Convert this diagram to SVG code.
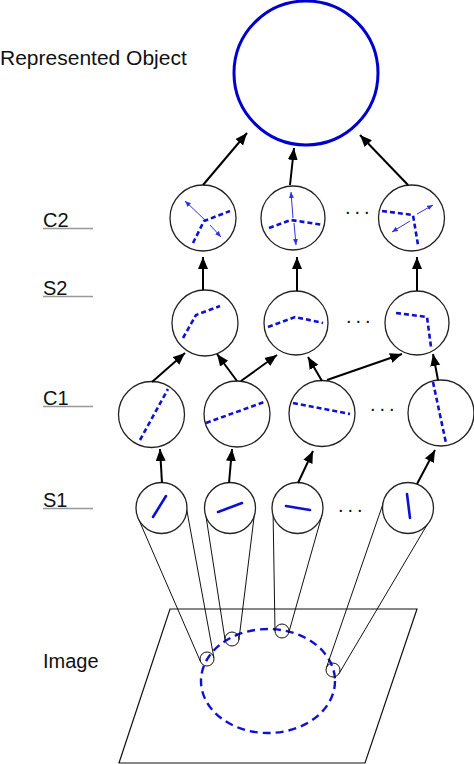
<svg xmlns="http://www.w3.org/2000/svg" width="474" height="764" viewBox="0 0 474 764">
<style>
.lbl{font-family:"Liberation Sans",Arial,sans-serif;font-size:20px;fill:#111}
.big{font-size:21px}
.dots{font-family:"Liberation Sans",Arial,sans-serif;font-size:20px;fill:#111;letter-spacing:4px}
.node{fill:#fff;stroke:#222;stroke-width:1.3}
.dash{fill:none;stroke:#1010d0;stroke-width:2.6;stroke-dasharray:5 3}
.thin{fill:none;stroke:#3030e0;stroke-width:1;marker-end:url(#ta)}
.solid{stroke:#1010d0;stroke-width:2.6;stroke-linecap:round}
.arr{stroke:#000;stroke-width:2;fill:none;marker-end:url(#ah)}
.rule{stroke:#999;stroke-width:1.5}
.cone{stroke:#111;stroke-width:1;fill:none}
</style>
<defs>
<marker id="ah" markerUnits="userSpaceOnUse" markerWidth="14" markerHeight="12" refX="12" refY="5" orient="auto">
<path d="M0,0 L12,5 L0,10 Z" fill="#000"/>
</marker>
<marker id="ta" markerUnits="userSpaceOnUse" markerWidth="8" markerHeight="6" refX="6" refY="2.5" orient="auto">
<path d="M0,0 L6,2.5 L0,5 Z" fill="#3030e0"/>
</marker>
</defs>
<rect width="474" height="764" fill="#fff"/>

<g id="labels">
<text class="lbl big" x="0" y="65">Represented Object</text>
<text class="lbl" x="43" y="227">C2</text>
<line class="rule" x1="43" y1="228.5" x2="93" y2="228.5"/>
<text class="lbl" x="43" y="295">S2</text>
<line class="rule" x1="43" y1="296.5" x2="93" y2="296.5"/>
<text class="lbl" x="43" y="405">C1</text>
<line class="rule" x1="43" y1="406.5" x2="93" y2="406.5"/>
<text class="lbl" x="43" y="507">S1</text>
<line class="rule" x1="43" y1="508.5" x2="93" y2="508.5"/>
<text class="lbl" x="43" y="668">Image</text>
</g>

<g id="image-plane">
<polygon points="170,609 417,609 365,763 119,763" fill="none" stroke="#111" stroke-width="1.2"/>
<ellipse cx="268" cy="681" rx="67" ry="52" fill="none" stroke="#1010d0" stroke-width="2.4" stroke-dasharray="8 5"/>
<circle cx="207" cy="659" r="7" fill="none" stroke="#111" stroke-width="1"/>
<circle cx="232" cy="639" r="7" fill="none" stroke="#111" stroke-width="1"/>
<circle cx="282" cy="631" r="7" fill="none" stroke="#111" stroke-width="1"/>
<circle cx="333" cy="670" r="7" fill="none" stroke="#111" stroke-width="1"/>
</g>

<g id="cones">
<line class="cone" x1="138.1" y1="518" x2="200.6" y2="661.8"/>
<line class="cone" x1="185.6" y1="503.5" x2="213.9" y2="657.7"/>
<line class="cone" x1="205.3" y1="511.8" x2="225.1" y2="640.1"/>
<line class="cone" x1="254.8" y1="511.1" x2="238.9" y2="639.9"/>
<line class="cone" x1="273" y1="508.4" x2="275" y2="631.1"/>
<line class="cone" x1="322.1" y1="514.8" x2="288.7" y2="632.9"/>
<line class="cone" x1="384.4" y1="499.8" x2="326.4" y2="667.7"/>
<line class="cone" x1="429.5" y1="520.7" x2="339" y2="673.6"/>
</g>

<g id="object">
<circle cx="306" cy="73" r="72" fill="none" stroke="#0000cc" stroke-width="3"/>
</g>

<g id="c2-1">
<circle class="node" cx="203" cy="218" r="33"/>
<polyline class="dash" points="193,243 204,221 230,211"/>
<line class="thin" x1="205" y1="220" x2="185" y2="201"/>
<line class="thin" x1="210" y1="225" x2="221" y2="237"/>
</g>
<g id="c2-2">
<circle class="node" cx="293" cy="218" r="32"/>
<polyline class="dash" points="269,228 291,220 323,225"/>
<line class="thin" x1="293" y1="218" x2="291" y2="192"/>
<line class="thin" x1="294" y1="223" x2="296" y2="245"/>
</g>
<g id="c2-3">
<circle class="node" cx="411.5" cy="218" r="33"/>
<polyline class="dash" points="382,211 413,215 418,245"/>
<line class="thin" x1="417" y1="214" x2="433" y2="205"/>
<line class="thin" x1="410" y1="221" x2="392" y2="232"/>
</g>
<text class="dots" x="345" y="214">...</text>

<g id="s2-1">
<circle class="node" cx="205" cy="323" r="33"/>
<polyline class="dash" points="183,338 196,315 220,306"/>
</g>
<g id="s2-2">
<circle class="node" cx="296" cy="323" r="32"/>
<polyline class="dash" points="268,327 295,317 323,323"/>
</g>
<g id="s2-3">
<circle class="node" cx="417" cy="323" r="32"/>
<polyline class="dash" points="396,313 427,317 431,347"/>
</g>
<text class="dots" x="346" y="323">...</text>

<g id="c1-1">
<circle class="node" cx="151.5" cy="414.5" r="33"/>
<line class="dash" x1="140" y1="440" x2="168" y2="389"/>
</g>
<g id="c1-2">
<circle class="node" cx="237" cy="414" r="33"/>
<line class="dash" x1="206" y1="423" x2="264" y2="402"/>
</g>
<g id="c1-3">
<circle class="node" cx="322" cy="413.5" r="33"/>
<line class="dash" x1="293" y1="403" x2="350" y2="414"/>
</g>
<g id="c1-4">
<circle class="node" cx="441" cy="413" r="33"/>
<line class="dash" x1="433" y1="382" x2="446" y2="443"/>
</g>
<text class="dots" x="370" y="411">...</text>

<g id="s1-1">
<circle class="node" cx="161.5" cy="508" r="25.5"/>
<line class="solid" x1="153" y1="517" x2="166" y2="496"/>
</g>
<g id="s1-2">
<circle class="node" cx="230" cy="508" r="25.5"/>
<line class="solid" x1="218" y1="512" x2="242" y2="503"/>
</g>
<g id="s1-3">
<circle class="node" cx="297.5" cy="508" r="25.5"/>
<line class="solid" x1="286" y1="506" x2="310" y2="510"/>
</g>
<g id="s1-4">
<circle class="node" cx="408" cy="508" r="25.5"/>
<line class="solid" x1="407" y1="494" x2="410" y2="518"/>
</g>
<text class="dots" x="338" y="512">...</text>

<g id="connectors">
<line class="arr" x1="203" y1="185" x2="247" y2="133"/>
<line class="arr" x1="290" y1="185" x2="294" y2="148"/>
<line class="arr" x1="408" y1="185" x2="360" y2="135"/>
<line class="arr" x1="203" y1="290" x2="203" y2="257"/>
<line class="arr" x1="297" y1="291" x2="297" y2="257"/>
<line class="arr" x1="417" y1="291" x2="417" y2="257"/>
<line class="arr" x1="152" y1="382" x2="185" y2="353"/>
<line class="arr" x1="237" y1="381" x2="217" y2="354"/>
<line class="arr" x1="241" y1="381" x2="277" y2="355"/>
<line class="arr" x1="322" y1="381" x2="308" y2="357"/>
<line class="arr" x1="327" y1="380" x2="402" y2="354"/>
<line class="arr" x1="438" y1="380" x2="433" y2="354"/>
<line class="arr" x1="162" y1="483" x2="160" y2="449"/>
<line class="arr" x1="229" y1="483" x2="232" y2="449"/>
<line class="arr" x1="298" y1="483" x2="313" y2="451"/>
<line class="arr" x1="417" y1="484" x2="435" y2="450"/>
</g>
</svg>
